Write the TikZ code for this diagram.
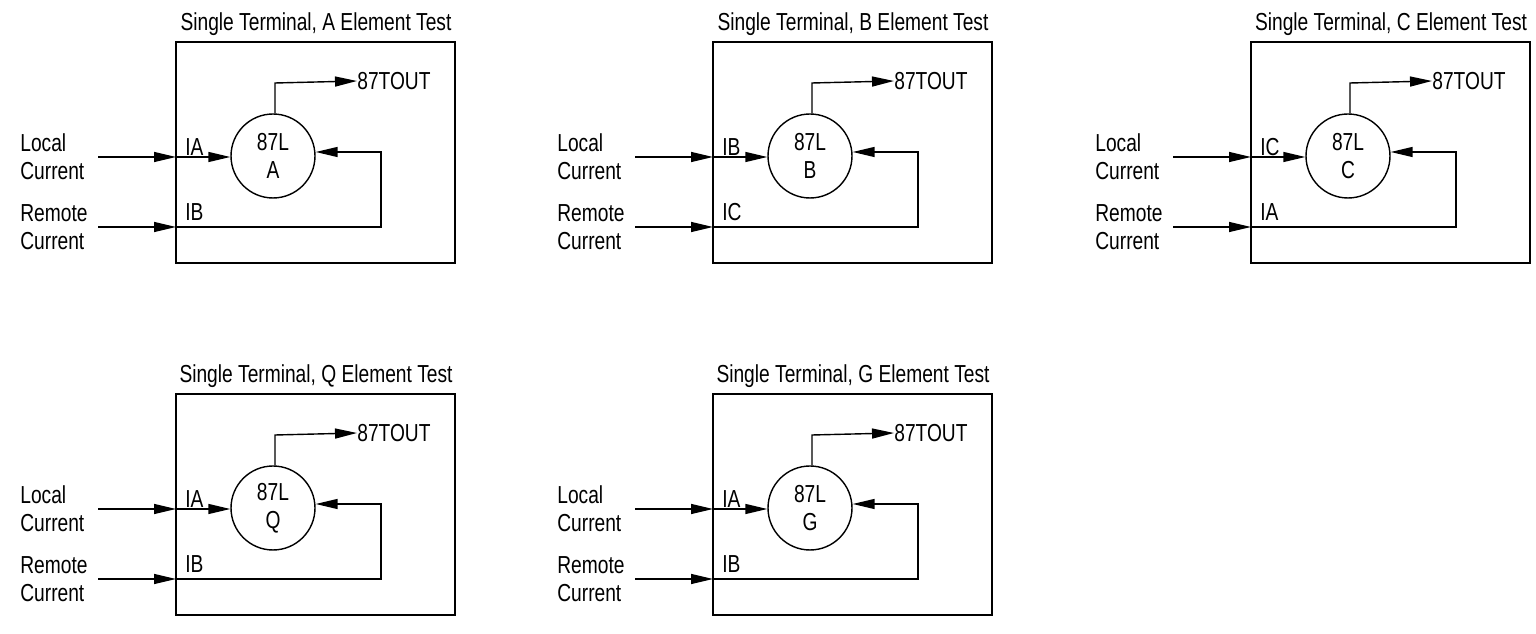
\documentclass[tikz,border=0pt]{standalone}
\usepackage{fontspec}
\setmainfont{Liberation Sans}[FakeStretch=0.78]
\usetikzlibrary{arrows.meta}

\tikzset{
  lbl/.style={font=\fontsize{14}{16}\selectfont, inner sep=0pt},
  arr/.style={-{Triangle[length=0.44cm,width=0.2cm]}, thick},
  elem/.style={draw, thick, circle, minimum size=1.68cm, inner sep=0pt, align=center, lbl}
}

% one test panel: #1 name, #2 x, #3 y, #4 element, #5 local input, #6 remote input
\newcommand{\testpanel}[6]{
  \begin{scope}[shift={(#2,#3)}]
    % box and title
    \draw[thick] (176,42) rectangle (455,263);
    \node[lbl, anchor=base] (#1title) at (316,31) {Single Terminal, #4 Element Test};
    % element
    \node[elem] (#1el) at (273,156) {87L\\#4};
    \coordinate (#1lin) at (98,157);
    \coordinate (#1lbox) at (176,157);
    \coordinate (#1rin) at (98,227);
    \coordinate (#1rbox) at (176,227);
    \coordinate (#1rcor) at (381,227);
    \coordinate (#1rtop) at (381,152);
    \coordinate (#1ocor) at (275,83);
    \node[lbl, anchor=west] (#1out) at (357,81) {87TOUT};
    % inputs
    \node[lbl, anchor=west, align=left] (#1local) at (20,157) {Local\\Current};
    \node[lbl, anchor=west, align=left] (#1remote) at (20,227) {Remote\\Current};
    \draw[arr] (#1lin) -- (#1lbox);
    \draw[arr] (#1lbox) -- (#1el.west |- #1lbox);
    \draw[arr] (#1rin) -- (#1rbox);
    \draw[arr] (#1rbox) -- (#1rcor) -- (#1rtop) -- (#1el.east |- #1rtop);
    \node[lbl, anchor=west] at (185,147) {#5};
    \node[lbl, anchor=west] at (185,212) {#6};
    % output
    \draw[arr] (#1el.north -| #1ocor) -- (#1ocor) -- (#1out.west);
  \end{scope}
}

\begin{document}
\begin{tikzpicture}[x=0.02cm, y=-0.02cm]
  \useasboundingbox (0,0) rectangle (1536,634);
  \testpanel{a}{0}{0}{A}{IA}{IB}
  \testpanel{b}{537}{0}{B}{IB}{IC}
  \testpanel{c}{1075}{0}{C}{IC}{IA}
  \testpanel{q}{0}{352}{Q}{IA}{IB}
  \testpanel{g}{537}{352}{G}{IA}{IB}
\end{tikzpicture}
\end{document}
